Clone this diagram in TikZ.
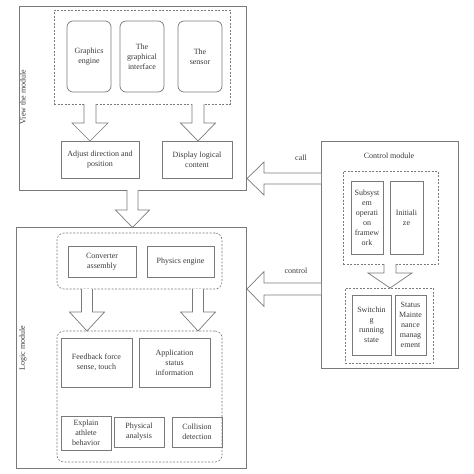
\documentclass[tikz,border=0pt]{standalone}
\usepackage{fontspec}
\setmainfont{Liberation Serif}
\definecolor{ln}{HTML}{7A7A7A}
\definecolor{txt}{HTML}{3A3A3A}
\newcommand\bkdown[6]{% x, ytop, ybase, ytip, shaft half, head half
  \draw[blk] (#1-#5,#2) -- (#1-#5,#3) -- (#1-#6,#3) -- (#1,#4) -- (#1+#6,#3) -- (#1+#5,#3) -- (#1+#5,#2);}
\newcommand\bkleft[6]{% y, xstart, xbase, xtip, shaft half, head half
  \draw[blk] (#2,#1-#5) -- (#3,#1-#5) -- (#3,#1-#6) -- (#4,#1) -- (#3,#1+#6) -- (#3,#1+#5) -- (#2,#1+#5);}
\begin{document}
\begin{tikzpicture}[x=1pt,y=-1pt,
  every node/.style={font=\fontsize{8}{10}\selectfont, text=txt, inner sep=1pt, align=center},
  box/.style={draw=ln, line width=0.7pt},
  rbox/.style={box, rounded corners=6pt},
  dbox/.style={draw=ln, line width=0.6pt, dash pattern=on 2pt off 1.5pt},
  rdbox/.style={dbox, rounded corners=7pt},
  blk/.style={draw=ln, fill=white, line width=0.7pt, line join=miter},
  lbl/.style={font=\fontsize{8}{10}\selectfont}]
\useasboundingbox (0,0) rectangle (474,474);
% View module
\node[box, minimum width=227pt, minimum height=184pt] (view) at (132.5,98) {};
\node[rotate=90] (viewlbl) at (23,97) {View the module};
\node[dbox, minimum width=176pt, minimum height=94pt] (vd) at (142,57) {};
\node[rbox, minimum width=44pt, minimum height=71pt] (ge) at (89,56.5) {Graphics\\engine};
\node[rbox, minimum width=44pt, minimum height=71pt] (gi) at (142,56.5) {The\\graphical\\interface};
\node[rbox, minimum width=44pt, minimum height=71pt] (se) at (200,56.5) {The\\sensor};
\node[box, minimum width=78pt, minimum height=37pt] (adj) at (100,159.5) {Adjust direction and\\position};
\node[box, minimum width=70pt, minimum height=37pt] (disp) at (197,159.5) {Display logical\\content};
\bkdown{90}{104}{123}{141}{6}{18}
\bkdown{198}{104}{123}{141}{6}{17.5}
% between modules
\bkdown{132.5}{190}{210}{227.5}{5.5}{17}
% Logic module
\node[box, minimum width=230pt, minimum height=240.5pt] (logic) at (131,347.75) {};
\node[rotate=90] (logiclbl) at (23,348) {Logic module};
\node[rdbox, minimum width=165pt, minimum height=56pt] (ld1) at (139.5,261) {};
\node[box, minimum width=68pt, minimum height=31pt] (conv) at (102,261.5) {Converter\\assembly};
\node[box, minimum width=67pt, minimum height=31pt] (phys) at (180.5,261.5) {Physics engine};
\bkdown{87}{289}{312}{331}{5.5}{17.5}
\bkdown{198}{289}{312}{331}{5.5}{17.5}
\node[rdbox, minimum width=165pt, minimum height=131pt] (ld2) at (139.5,396.5) {};
\node[box, minimum width=71pt, minimum height=49pt] (fb) at (96.5,362.5) {Feedback force\\sense, touch};
\node[box, minimum width=71pt, minimum height=49pt] (app) at (174.5,362.5) {Application\\status\\information};
\node[box, minimum width=50pt, minimum height=34pt] (expl) at (86,433) {Explain\\athlete\\behavior};
\node[box, minimum width=50pt, minimum height=30pt] (physan) at (139,432) {Physical\\analysis};
\node[box, minimum width=50pt, minimum height=30pt] (coll) at (197,432) {Collision\\detection};
% Control module
\node[box, minimum width=137pt, minimum height=227pt] (ctrl) at (389.5,254.5) {};
\node (ctrllbl) at (389,156) {Control module};
\node[dbox, minimum width=95pt, minimum height=93pt] (cd1) at (390.5,217.5) {};
\node[box, minimum width=32pt, minimum height=73pt] (sub) at (367,217.5) {Subsyst\\em\\operati\\on\\framew\\ork};
\node[box, minimum width=33pt, minimum height=73pt] (init) at (406.5,217.5) {Initiali\\ze};
\bkdown{390}{264}{273}{288}{6}{22}
\node[dbox, minimum width=88pt, minimum height=75pt] (cd2) at (389,325.5) {};
\node[box, minimum width=39pt, minimum height=60pt] (sw) at (371.5,325) {Switchin\\g\\running\\state};
\node[box, minimum width=31pt, minimum height=60pt] (st) at (410.5,325) {Status\\Mainte\\nance\\manag\\ement};
% call / control arrows
\bkleft{178.5}{321}{264}{247}{5.5}{16.5}
\bkleft{289}{321}{264}{247}{6}{17.5}
\node (calllbl) at (301,158) {call};
\node (ctrlarrlbl) at (296,271) {control};
\end{tikzpicture}
\end{document}
